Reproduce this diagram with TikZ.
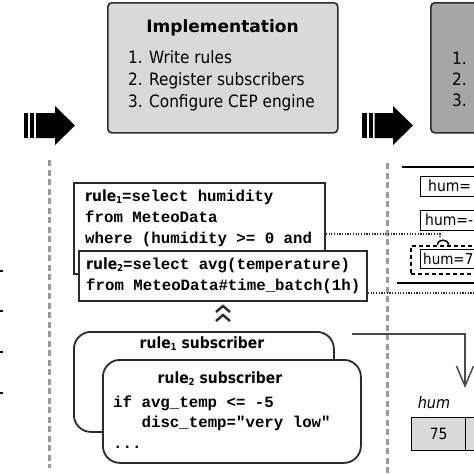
\documentclass[tikz,border=0pt]{standalone}
\usepackage{fontspec}
\setmainfont{DejaVu Sans}
\newfontfamily\tah{DejaVu Sans Condensed}
\newfontfamily\cour{Liberation Mono}
\usetikzlibrary{arrows.meta}
\definecolor{lgray}{HTML}{D9D9D9}
\definecolor{dgray}{HTML}{A6A6A6}
\definecolor{edgec}{HTML}{2B2B2B}
\definecolor{sepc}{HTML}{9A9A9A}
\definecolor{connc}{HTML}{4A4A4A}
\newcommand\rl[1]{rule\raisebox{-2.5pt}{\fontsize{9.5}{9.5}\selectfont #1}}
\newcommand\rlab[1]{{\tah\bfseries\fontsize{15.5}{15.5}\selectfont\rl{#1}}}
\begin{document}
\begin{tikzpicture}[x=1pt,y=-1pt,
  phase/.style={draw=edgec, line width=1.6pt, rounded corners=4pt, anchor=north west, inner sep=0pt},
  rulebox/.style={draw=edgec, line width=1.8pt, fill=white, anchor=north west, inner sep=0pt},
  subbox/.style={draw=edgec, line width=1.8pt, fill=white, rounded corners=17pt, anchor=north west, inner sep=0pt},
  humbox/.style={draw=black, line width=1.4pt, fill=white, anchor=north west, inner sep=0pt},
  cellbox/.style={draw=black, line width=1.4pt, fill=lgray, anchor=north west, inner sep=0pt},
  dbox/.style={draw=black, line width=1.6pt, dash pattern=on 4pt off 3pt, anchor=north west, inner sep=0pt},
  sep/.style={draw=sepc, line width=3pt, dash pattern=on 6pt off 3.5pt},
  dots/.style={draw=edgec, line width=1.3pt, dash pattern=on 1.2pt off 1.5pt},
  conn/.style={draw=connc, line width=1.5pt},
  lst/.style={font=\tah\fontsize{17}{17}\selectfont, anchor=base west, inner sep=0pt},
  code/.style={font=\cour\bfseries\fontsize{15.75}{15.75}\selectfont, anchor=base west, inner sep=0pt},
  subt/.style={font=\tah\bfseries\fontsize{15.5}{15.5}\selectfont, anchor=base, inner sep=0pt},
  humt/.style={font=\tah\fontsize{15.5}{15.5}\selectfont, anchor=west, inner sep=0pt}
]
\useasboundingbox (0,0) rectangle (474,474);
\clip (0,0) rectangle (474,474);
\fill[white] (0,0) rectangle (474,474);

% left edge marks
\foreach \yy in {271,311,352,393} \draw[line width=2pt] (0,\yy) -- (3,\yy);

% block arrows
\fill (24,113) rectangle (28,138);
\fill (30,113) rectangle (34,138);
\fill (36,113) -- (55,113) -- (55,106) -- (75,125.5) -- (55,145) -- (55,138) -- (36,138) -- cycle;
\fill (362,113) rectangle (367,138);
\fill (368.5,113) rectangle (373,138);
\fill (374.5,113) -- (393,113) -- (393,106) -- (413,125.5) -- (393,145) -- (393,138) -- (374.5,138) -- cycle;

% phase boxes
\node[phase, fill=lgray, minimum width=230pt, minimum height=130pt] (impl) at (107,2) {};
\node[font=\bfseries\fontsize{17}{17}\selectfont, anchor=base, inner sep=0pt] (implt) at (222.5,32) {Implementation};
\node[lst] (i1) at (128,63) {1. Write rules};
\node[lst] (i2) at (128,85) {2. Register subscribers};
\node[lst] (i3) at (128,107) {3. Configure CEP engine};

\node[phase, fill=dgray, minimum width=80pt, minimum height=130pt] (exec) at (430,2) {};
\node[lst] (e1) at (452,64) {1.};
\node[lst] (e2) at (452,85) {2.};
\node[lst] (e3) at (452,106) {3.};

% separators
\draw[sep] (49,160) -- (49,468);
\draw[sep] (387,163) -- (387,474);

% rule boxes
\node[rulebox, minimum width=251pt, minimum height=91pt] (r1) at (73,182) {};
\node[code] (c11) at (85,201) {\rlab{1}=select humidity};
\node[code] (c12) at (85,222.5) {from MeteoData};
\node[code] (c13) at (85,243.5) {where (humidity >= 0 and};
\node[rulebox, minimum width=288pt, minimum height=50pt] (r2) at (78,250) {};
\node[code] (c21) at (86,269) {\rlab{2}=select avg(temperature)};
\node[code] (c22) at (86,290) {from MeteoData\#time\_batch(1h)};

% double chevron
\draw[line width=2.4pt, edgec] (216,312) -- (223,306) -- (230,312);
\draw[line width=2.4pt, edgec] (216,321) -- (223,315) -- (230,321);

% subscriber boxes
\node[subbox, minimum width=260pt, minimum height=100pt] (s1) at (73,331) {};
\node[subt] (s1t) at (202,348) {\rl{1} subscriber};
\node[subbox, minimum width=258pt, minimum height=103pt] (s2) at (102,359) {};
\node[subt] (s2t) at (220,383) {\rl{2} subscriber};
\node[code] (d1) at (113,407) {if avg\_temp <= -5};
\node[code] (d2) at (141.4,427) {disc\_temp="very low"};
\node[code] (d3) at (113,448) {...};

% right region
\draw[line width=2pt, black] (402,167) -- (480,167);
\node[humbox, minimum width=80pt, minimum height=20pt] (hb1) at (420,176) {};
\node[humt] (h1) at (428,186) {hum=};
\node[humbox, minimum width=80pt, minimum height=20pt] (hb2) at (420,210) {};
\node[humt] (h2) at (425,220) {hum=-};
\node[dbox, minimum width=90pt, minimum height=28pt] (db) at (410,245) {};
\node[humbox, minimum width=80pt, minimum height=19pt] (hb3) at (420,249) {};
\node[humt, font=\tah\fontsize{15}{15}\selectfont] (h3) at (423,258.5) {hum=7};
\draw[line width=1.5pt, black] (437.5,245) .. controls (437.5,238.5) and (448.5,238.5) .. (448.5,245);
\draw[line width=2pt, black] (397,283) -- (480,283);

% dotted links
\coordinate (hook) at (440,238);
\coordinate (edge2) at (480,293);
\draw[dots] (r1.east |- 0,234) -| (hook);
\draw[dots] (r2.east |- edge2) -- (edge2);

% result table
\node[cellbox, minimum width=54pt, minimum height=33pt] (cell1) at (411,417) {};
\node[cellbox, minimum width=40pt, minimum height=33pt] (cell2) at (465,417) {};
\node[font=\tah\fontsize{15.5}{15.5}\selectfont, inner sep=0pt] (v1) at (cell1.center) {75};
\node[font=\tah\itshape\fontsize{16}{16}\selectfont, inner sep=0pt] (hh) at (434,403) {hum};

% subscriber connector
\coordinate (astart) at (352,334);
\coordinate (aend) at (465,388);
\draw[conn, -{Straight Barb[length=20pt,width=17pt,line width=1.5pt]}] (astart) -| (aend);
\end{tikzpicture}
\end{document}
